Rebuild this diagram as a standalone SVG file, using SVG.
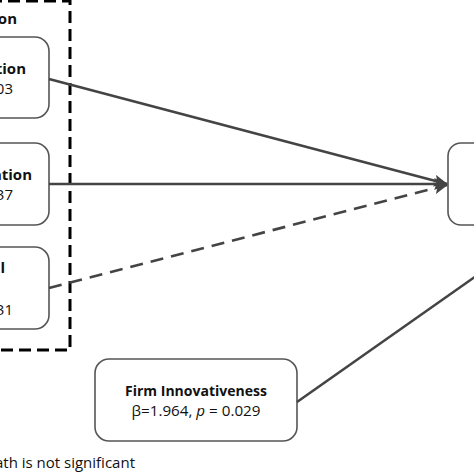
<svg xmlns="http://www.w3.org/2000/svg" width="474" height="474" viewBox="0 0 474 474">
<style>
.box{fill:#fff;stroke:#555;stroke-width:1.6}
.t{font-family:"Open Sans","Liberation Sans",sans-serif;font-size:15px;fill:#111}
.b{font-weight:bold}
.c{stroke:#444;stroke-width:2.6;fill:none}
.d{stroke-dasharray:13 8}
</style>
<defs>
<marker id="ah" markerUnits="userSpaceOnUse" markerWidth="14" markerHeight="12" refX="13" refY="6" orient="auto">
<path d="M0,0 L14,6 L0,12 L3,6 z" fill="#444"/>
</marker>
</defs>
<rect width="474" height="474" fill="#fff"/>
<g id="group">
<path d="M-10,1 H70 V350 H-10" fill="none" stroke="#000" stroke-width="3" stroke-dasharray="12 6"/>
<text class="t b" x="17" y="24" text-anchor="end">on</text>
</g>
<g id="n1">
<rect class="box" x="-120" y="37" width="169" height="81" rx="14"/>
<text class="t b" x="26" y="74" text-anchor="end">ction</text>
<text class="t" x="13" y="94" text-anchor="end">03</text>
</g>
<g id="n2">
<rect class="box" x="-120" y="143" width="169" height="82" rx="14"/>
<text class="t b" x="32" y="180" text-anchor="end">ation</text>
<text class="t" x="13" y="200" text-anchor="end">37</text>
</g>
<g id="n3">
<rect class="box" x="-120" y="247" width="169" height="82" rx="14"/>
<text class="t b" x="5" y="273" text-anchor="end">l</text>
<text class="t" x="13" y="315" text-anchor="end">31</text>
</g>
<g id="target">
<rect class="box" x="448" y="143" width="120" height="82" rx="13"/>
</g>
<g id="firm">
<rect class="box" x="95" y="359" width="202" height="82" rx="14"/>
<text class="t b" x="196" y="396" text-anchor="middle" textLength="142" lengthAdjust="spacingAndGlyphs">Firm Innovativeness</text>
<text class="t" x="196" y="416" text-anchor="middle" textLength="129" lengthAdjust="spacingAndGlyphs">β=1.964, <tspan font-style="italic">p</tspan> = 0.029</text>
</g>
<g id="connectors">
<line class="c" x1="49" y1="79" x2="447" y2="184" marker-end="url(#ah)"/>
<line class="c" x1="49" y1="184" x2="447" y2="184" marker-end="url(#ah)"/>
<line class="c d" x1="49" y1="288" x2="447" y2="185" marker-end="url(#ah)"/>
<line class="c" x1="297" y1="402" x2="560" y2="217"/>
</g>
<text class="t" x="135" y="468" text-anchor="end">path is not significant</text>
</svg>
